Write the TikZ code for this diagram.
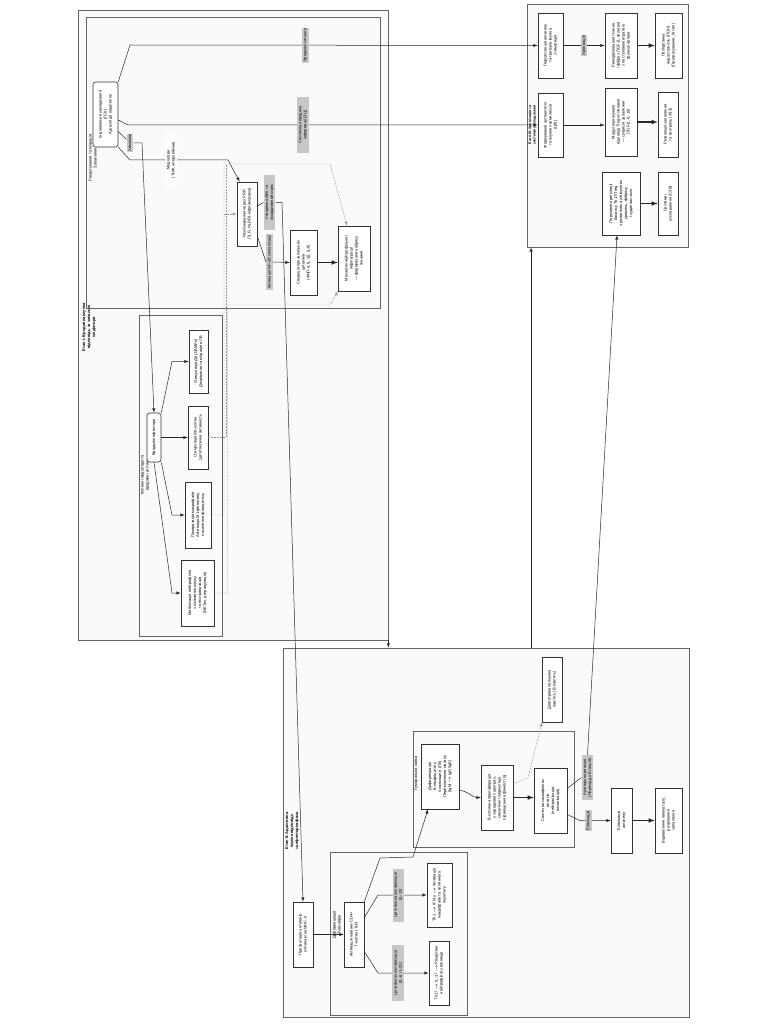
\documentclass[tikz,border=0pt]{standalone}
\usepackage{fontspec}
\usepackage{graphicx}
\setmainfont{Liberation Sans}

\newcommand{\rt}[1]{\rotatebox{90}{\begin{tabular}{@{}c@{}}#1\end{tabular}}}

\tikzstyle{block} = [draw=black!80, fill=white, rectangle, line width=0.6pt,
    inner sep=0pt, font=\fontsize{4}{5}\selectfont]
\tikzstyle{rblock} = [block, rounded corners=2.5pt]
\tikzstyle{frame} = [draw=black!60, fill=black!2, rectangle, line width=0.7pt, inner sep=0pt]
\tikzstyle{tag} = [fill=black!22, rectangle, inner sep=0.8pt, font=\fontsize{4}{5}\selectfont]
\tikzstyle{wtag} = [tag, fill=white]
\tikzstyle{ttl} = [inner sep=0pt, font=\fontsize{4}{5}\selectfont\bfseries]
\tikzstyle{sttl} = [inner sep=0pt, font=\fontsize{4}{5}\selectfont]
\tikzstyle{link} = [draw=black!85, line width=0.5pt]
\tikzstyle{heavy} = [draw=black!85, line width=1.1pt]
\tikzstyle{fb} = [draw=black!40, line width=0.45pt, dash pattern=on 2pt off 1pt]

\begin{document}
\begin{tikzpicture}[x=1pt, y=-1pt, >=latex]
    \useasboundingbox (0,0) rectangle (768,1024);
    \fill[white] (0,0) rectangle (768,1024);

    % We start by placing the frames of the stages
    \node [frame, minimum width=310pt, minimum height=630pt] (stI) at (233,325) {};
    \node [frame, minimum width=294pt, minimum height=291pt] (stIa) at (233,162.5) {};
    \node [frame, minimum width=83pt, minimum height=321pt] (stIb) at (180.5,475.5) {};
    \node [frame, minimum width=406pt, minimum height=369pt] (stII) at (486,832.5) {};
    \node [frame, minimum width=137pt, minimum height=163pt] (stIIa) at (398.5,933.5) {};
    \node [frame, minimum width=161pt, minimum height=116pt] (stIIb) at (493.5,789) {};
    \node [frame, minimum width=161pt, minimum height=243pt] (stIII) at (607.5,125.5) {};

    \node [ttl] (tI) at (89,327) {\rt{Етап I: Вроджена імунна\\відповідь та запальні\\медіатори}};
    \node [sttl] (tIa) at (93,158) {\rt{Рекрутування та міграція\\Запалення}};
    \node [sttl] (tIb) at (145,475) {\rt{Клітинні медіатори та\\вроджені клітини}};
    \node [ttl] (tII) at (292,831) {\rt{Етап II: Адаптивна\\імунна відповідь\\та ефекторна фаза}};
    \node [sttl] (tIIa) at (337,925) {\rt{Диференціація\\Т-хелперів}};
    \node [sttl] (tIIb) at (416,773) {\rt{Гуморальна ланка}};
    \node [ttl, font=\fontsize{3.6}{4.3}\selectfont\bfseries] (tIII) at (532.5,125) {\rt{Етап III: Хронізація та\\системні ускладнення}};

    % Stage I
    \node [rblock, minimum width=25pt, minimum height=65pt] (gsk) at (105.5,114.5)
        {\rt{Ініціювальне ушкодження\\(ГСК)\\Адгезія до ендотелію}};
    \node [block, minimum width=20pt, minimum height=64pt] (prr) at (247,214)
        {\rt{Розпізнавання через PRR\\(TLR, NLRP3-інфламасома)}};
    \node [block, minimum width=27pt, minimum height=65pt] (sekr) at (303.5,262.5)
        {\rt{Секреція прозапальних\\цитокінів\\(ФНП-α, IL-1β, IL-6)}};
    \node [block, minimum width=32pt, minimum height=65pt] (mech) at (354,258.5)
        {\rt{Механізм нейтрофільної\\інфільтрації\\— формування набряку\\тканини}};
    \node [rblock, minimum width=14pt, minimum height=49pt] (efekt) at (154,437.5)
        {\rt{Вроджені ефектори}};
    \node [block, minimum width=19pt, minimum height=63pt] (ia) at (198.5,361.5)
        {\rt{Стимуляція ДК (DAMPs)\\Дозрівання та міграція в ЛВ}};
    \node [block, minimum width=20pt, minimum height=63pt] (ib) at (198,437.5)
        {\rt{Стимуляція NK-клітин\\Цитотоксична активність}};
    \node [block, minimum width=26pt, minimum height=66pt] (ic) at (198,515)
        {\rt{Поляризація макрофагів\\Активація M1-фенотипу,\\посилення фагоцитозу}};
    \node [block, minimum width=33pt, minimum height=66pt] (id) at (197.5,593)
        {\rt{Мобілізація нейтрофілів\\з кісткового мозку\\та екстравазація\\(NETоз, дегрануляція)}};

    % Stage III
    \node [block, minimum width=25pt, minimum height=65pt] (a1) at (550.5,45.5)
        {\rt{Персистенція антигену\\та тривала імунна\\стимуляція}};
    \node [block, minimum width=32pt, minimum height=65pt] (a2) at (621,45.5)
        {\rt{Ремоделювання тканин\\і фіброз (TGF-β, колаген)\\з поступовою втратою\\функції органа}};
    \node [block, minimum width=27pt, minimum height=65pt] (a3) at (668.5,45.5)
        {\rt{Поліорганна\\недостатність (ПОН)\\(Прогресування, III тип)}};
    \node [block, minimum width=25pt, minimum height=64pt] (b1) at (550.5,125)
        {\rt{Формування аутоантитіл\\та імунних комплексів\\(ЦІК)}};
    \node [block, minimum width=32pt, minimum height=68pt] (b2) at (621,122)
        {\rt{Модуляція імунної\\відповіді Treg-клітинами\\— супресія запалення\\(TGF-β, IL-10)}};
    \node [block, minimum width=20pt, minimum height=65pt] (b3) at (668,124.5)
        {\rt{Резолюція запалення\\та контроль (ХЗЗ)}};
    \node [block, minimum width=38pt, minimum height=63pt] (c1) at (621,203.5)
        {\rt{Порушення регуляції\\балансу Th17/Treg\\з розвитком аутоімунних\\уражень, фіброзу\\і судинних змін}};
    \node [block, minimum width=20pt, minimum height=63pt] (c3) at (668,203.5)
        {\rt{Системні\\ускладнення (СЗВ)}};

    % Stage II
    \node [block, minimum width=20pt, minimum height=65pt] (pres) at (303,934.5)
        {\rt{Презентація антигенів\\клітинам на MHC-II}};
    \node [block, minimum width=20pt, minimum height=65pt] (akt) at (354,934.5)
        {\rt{Активація наївних CD4+\\Т-клітин (ТкР)}};
    \node [block, minimum width=25pt, minimum height=64pt] (th1) at (439.5,895)
        {\rt{Th1 $\to$ IFN-γ $\to$ Активація\\макрофагів та клітинного\\імунітету}};
    \node [block, minimum width=20pt, minimum height=64pt] (th17) at (439,973)
        {\rt{Th17 $\to$ IL-17 $\to$ Рекрутинг\\нейтрофілів у вогнище}};
    \node [block, minimum width=38pt, minimum height=65pt] (d1) at (440,776.5)
        {\rt{Диференціація\\В-лімфоцитів у\\плазмоцити (ПК)\\Переключення ізотипу\\(IgM $\to$ IgG/IgE)}};
    \node [block, minimum width=32pt, minimum height=65pt] (d2) at (497,797.5)
        {\rt{В-клітинна проліферація\\у зародкових центрах,\\соматичні гіпермутації,\\підвищення афінності Ig}};
    \node [block, minimum width=33pt, minimum height=65pt] (d3) at (550.5,800.5)
        {\rt{Синтез високоафінних\\антитіл\\(нейтралізація,\\опсонізація)}};
    \node [block, minimum width=20pt, minimum height=65pt] (e) at (552,689.5)
        {\rt{Довготривала імунна\\пам'ять (В-пам'ять)}};
    \node [block, minimum width=21pt, minimum height=65pt] (f) at (621.5,820.5)
        {\rt{Елімінація\\антигену}};
    \node [block, minimum width=27pt, minimum height=65pt] (g) at (668.5,820.5)
        {\rt{Відновлення гомеостазу,\\розрішення\\запалення}};

    % Connectors of stage I
    \draw [link,->] (gsk.north east) -- (130,45) -- (a1.west)
        node [tag, pos=0.43, minimum height=32pt] (lsig) {\rt{Вроджені сигнали}};
    \draw [link,->] ([yshift=-5.5pt]gsk.east) -- (128,125) -- (b1.west)
        node [tag, pos=0.427, minimum height=56pt] (lsys) {\rt{Системна передача\\інформації (ЗЦ)}};
    \node [tag] (lchem) at (130,143) {\rt{Хемокіни}};
    \draw [link] ([yshift=-17pt]gsk.east) -- (lchem);
    \draw [link,->] (lchem.east) -- (142,143) -- (efekt.north);
    \draw [link,->] (gsk.south east) -- (130,160)
        -- node [wtag, pos=0.42, minimum height=52pt] (lmed) {\rt{Медіатори\\(ТНФ, інтерлейкіни)}} (228,160)
        -- ([xshift=3pt]prr.north west);
    \node [tag, minimum height=55pt] (lros) at (269.5,202.5) {\rt{Утворення АФК та\\оксидативний стрес}};
    \draw [link] ([yshift=8pt]prr.east) -- (lros.west);
    \draw [link,->] (lros.east) -- (282,202.5) -- (pres.north);
    \node [tag, minimum height=50pt] (lnfkb) at (269.5,262) {\rt{Активація NF-κB сигналізації}};
    \draw [link] ([yshift=-22pt]prr.east) -- (lnfkb.west);
    \draw [link,->] (lnfkb.east) -- (sekr.west);
    \draw [heavy,->] (sekr.east) -- (sekr.east -| mech.west);

    \draw [fb,->] (ic.east) -- (224,515) -- (224,164) -- (330,164) -- ([xshift=-7pt]mech.north);
    \draw [fb,->] (id.east) -- (227.5,593) -- (227.5,305) -- (330,305) -- ([xshift=-16pt]mech.south);
    \draw [fb] (ib.east) -- (225.8,437.5) -- (225.8,164);
    \draw [fb,->] (224,214) -- (prr.west);

    \draw [link,->] (efekt.north east) -- (172,361.5) -- (ia.west);
    \draw [link,->] (efekt.east) -- (ib.west);
    \draw [link,->] (efekt.south east) -- (172,515) -- (ic.west);
    \draw [link,->] (efekt.south) -- (172,593) -- (id.west);

    \draw [link,->] (stI.south east) -- (stI.south east |- stII.north);

    % Connectors of stage II
    \draw [link,->] (pres.east) -- (akt.west);
    \draw [link,->] (akt.north east) -- (380,858) -- (413,857) -- ([xshift=-12pt]d1.south);
    \draw [link,->] ([yshift=17pt]akt.east) -- (378,895) -- (th1.west)
        node [tag, pos=0.42, minimum height=53pt] (lpol1) {\rt{Цитокінова поляризація\\(IL-12)}};
    \draw [link,->] ([yshift=-17pt]akt.east) -- (378,973) -- (th17.west)
        node [tag, pos=0.4, minimum height=56pt] (lpol2) {\rt{Цитокінова поляризація\\(IL-6, IL-23)}};
    \draw [link,->] ([yshift=-14pt]d1.east) to[out=0, in=180] (d2.west);
    \draw [heavy,->] (d2.east) -- (d2.east -| d3.west);
    \draw [fb,->] ([yshift=14pt]d2.east) -- (528,778) -- ([xshift=-10pt]e.south);
    \node [tag, minimum height=45pt] (laut) at (587.5,777.5) {\rt{Аутоімунна реакція\\(Перехід до Етапу III)}};
    \draw [link] ([yshift=12pt]d3.east) -- (laut.west);
    \draw [link,->] (laut.north) -- ([xshift=-4pt]c1.south);
    \draw [link,->] ([yshift=-14pt]d3.east) -- (580,820.5) -- (f.west)
        node [tag, pos=0.27] (lelim) {\rt{Елімінація}};
    \draw [heavy,->] (f.east) -- (g.west);

    \draw [link,->] (stII.north -| 531,0) -- (stIII.south -| 531,0);

    % Connectors of stage III
    \draw [link,->] (a1.east) -- (a2.west) node [tag, midway] (lchr) {\rt{Хронізація}};
    \draw [heavy,->] (a2.east) -- (a3.west);
    \draw [link,->] (b1.east) -- (b1.east -| b2.west);
    \draw [heavy,->] (b2.east) -- (b2.east -| b3.west);
    \draw [heavy,->] (c1.east) -- (c3.west);
\end{tikzpicture}
\end{document}
